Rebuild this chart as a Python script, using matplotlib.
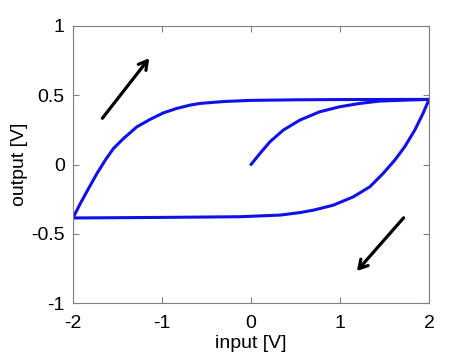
import matplotlib
matplotlib.use("Agg")
import matplotlib.pyplot as plt

plt.rcParams['font.family'] = ['Liberation Sans', 'DejaVu Sans']

# initial curve (input rising from 0 to 2)
init_x = [0.0, 0.101, 0.213, 0.362, 0.550, 0.774, 0.998, 1.223, 1.447, 1.746, 2.0]
init_y = [0.0, 0.080, 0.164, 0.248, 0.321, 0.381, 0.417, 0.441, 0.458, 0.465, 0.470]

# rising branch (input increasing from -2 to 2)
up_x = [-2.0, -1.918, -1.825, -1.731, -1.638, -1.545, -1.432, -1.282, -1.133, -0.984,
        -0.833, -0.684, -0.572, -0.3, 0.0, 0.5, 1.0, 2.0]
up_y = [-0.386, -0.282, -0.173, -0.065, 0.031, 0.116, 0.188, 0.272, 0.326, 0.373,
        0.405, 0.429, 0.441, 0.455, 0.463, 0.467, 0.469, 0.470]

# falling branch (input decreasing from 2 to -2)
down_x = [2.0, 1.933, 1.840, 1.727, 1.615, 1.484, 1.335, 1.148, 0.923, 0.699, 0.550,
          0.332, -0.118, -1.0, -2.0]
down_y = [0.470, 0.369, 0.248, 0.128, 0.031, -0.065, -0.161, -0.234, -0.294, -0.330, -0.347,
          -0.365, -0.377, -0.382, -0.386]

# arrows (tail -> tip)
arrow_up = [(-1.67, 0.334), (-1.144, 0.767)]
arrow_down = [(1.715, -0.385), (1.19, -0.769)]

xticks = [-2, -1, 0, 1, 2]
yticks = [-1, -0.5, 0, 0.5, 1]
xticklabels = ['-2', '-1', '0', '1', '2']
yticklabels = ['-1', '-0.5', '0', '0.5', '1']

fig = plt.figure(figsize=(4.74, 3.55), dpi=100)
ax = fig.add_axes([73/474, 1-303/355, (429-73)/474, (303-26)/355])

blue = '#1010e8'
for xs, ys in ((init_x, init_y), (up_x, up_y), (down_x, down_y)):
    ax.plot(xs, ys, color=blue, lw=2.2, solid_capstyle='round', solid_joinstyle='round')

for (t, h) in (arrow_up, arrow_down):
    ax.annotate('', xy=h, xytext=t,
                arrowprops=dict(arrowstyle='->,head_length=0.6,head_width=0.35',
                                color='black', lw=2.3, shrinkA=0, shrinkB=0))

ax.set_xlim(-2, 2)
ax.set_ylim(-1, 1)
ax.set_xticks(xticks)
ax.set_xticklabels(xticklabels)
ax.set_yticks(yticks)
ax.set_yticklabels(yticklabels)
ax.tick_params(direction='in', top=True, right=True, length=4, width=0.8,
               color='#808080', labelsize=14)
ax.tick_params(axis='x', pad=9)
ax.tick_params(axis='y', pad=6)
for s in ax.spines.values():
    s.set_color('#808080')
    s.set_linewidth(0.8)
ax.set_xlabel('input [V]', fontsize=14, labelpad=2)
ax.set_ylabel('output [V]', fontsize=14, labelpad=2)

fig.savefig('out.png', dpi=100)
